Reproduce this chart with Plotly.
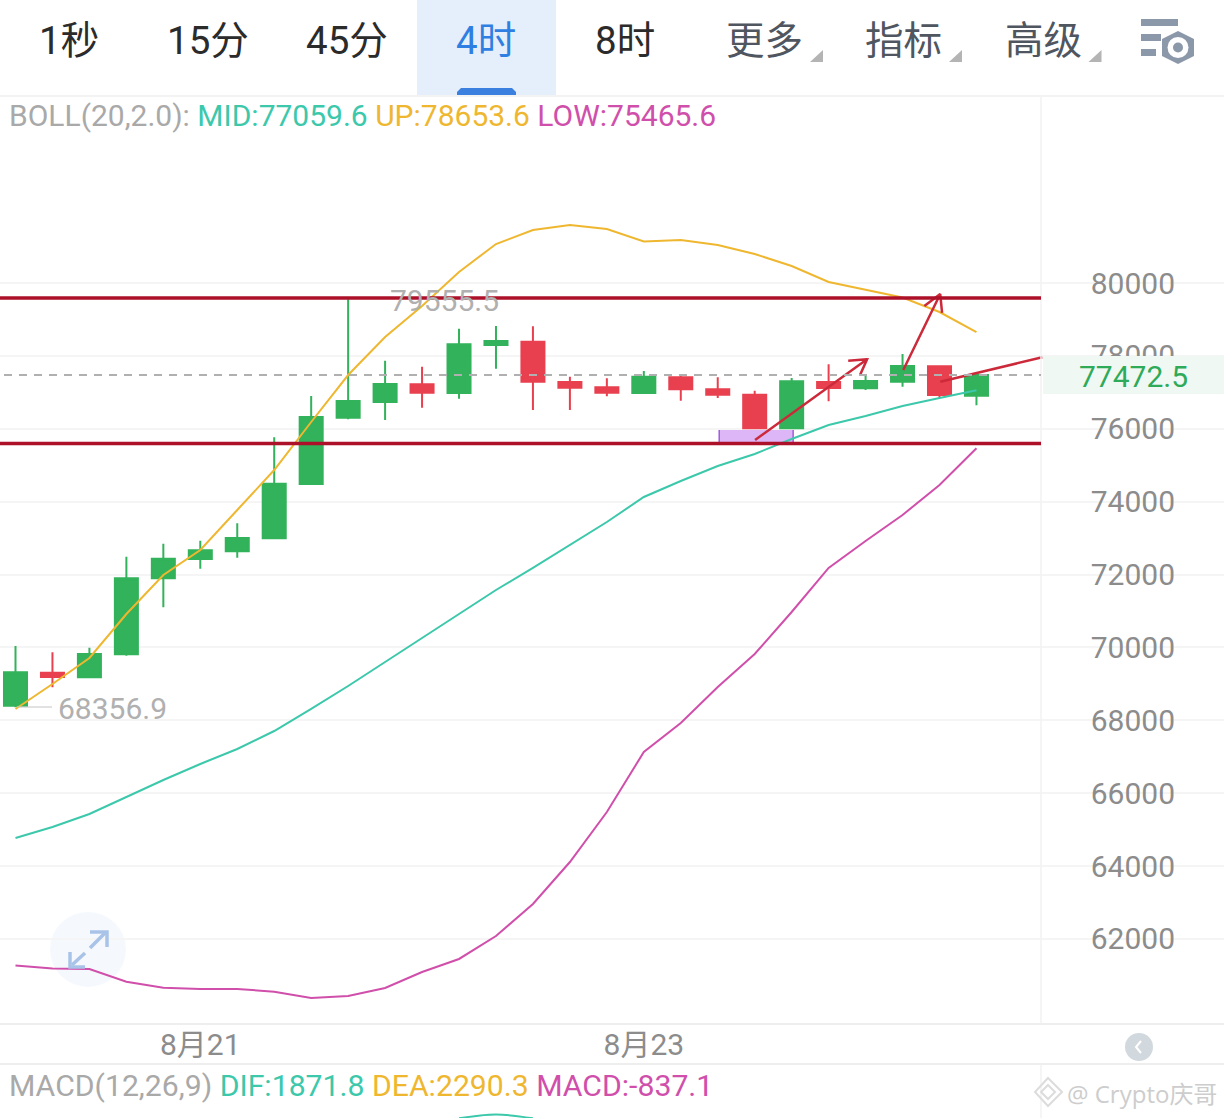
import plotly.graph_objects as go

# candles (green = up, red = down)
idx = list(range(27))
opens = [68401, 69307, 69181, 69812, 71897, 72427, 72638, 72994, 74485, 76304, 76735, 77220, 76982, 78299,
         78389, 77283, 77138, 76982, 77412, 77083, 76935, 76013, 77283, 77111, 77292, 77714, 76907]
highs = [70039, 69866, 69993, 72490, 72846, 72929, 73406, 75766, 76899, 79555.5, 77868, 77703, 78746, 78820,
         78812, 77429, 77385, 77585, 77476, 77412, 77045, 77393, 77769, 77448, 78052, 77714, 77476]
lows = [68356.9, 68906, 69161, 69773, 71101, 72160, 72462, 72994, 74485, 76260, 76241, 76578, 76825, 77648,
        76515, 76515, 76891, 76954, 76770, 76844, 76013, 76013, 76754, 77064, 77154, 76836, 76644]
closes = [69318, 69189, 69820, 71897, 72435, 72665, 73003, 74493, 76323, 76762, 77229, 76990, 78318, 78408,
          77292, 77127, 76990, 77429, 77083, 76935, 76013, 77303, 77119, 77311, 77722, 76927, 77472.5]

boll_up = [68311, 68997, 69710, 70917, 71988, 72673, 73771, 74869, 76186, 77475, 78518, 79369, 80302, 81070,
           81454, 81592, 81482, 81139, 81180, 81043, 80796, 80466, 80027, 79808, 79602, 79204, 78653.6]
boll_mid = [64771, 65073, 65429, 65896, 66362, 66801, 67213, 67706, 68311, 68942, 69600, 70259, 70917, 71576,
            72180, 72811, 73442, 74128, 74567, 74978, 75308, 75719, 76104, 76350, 76625, 76844, 77059.6]
boll_low = [61272, 61190, 61176, 60828, 60663, 60627, 60627, 60553, 60380, 60435, 60655, 61094, 61451, 62082,
            62960, 64112, 65484, 67131, 67926, 68914, 69820, 70972, 72180, 72920, 73634, 74457, 75465.6]

dif_idx = [12, 13, 14]
dif_vals = [3290, 3410, 3290]

y_ticks = [80000, 78000, 76000, 74000, 72000, 70000, 68000, 66000, 64000, 62000]
x_tick_idx = [5, 17]
x_tick_text = ['8月21', '8月23']
tabs = ['1秒', '15分', '45分', '4时', '8时', '更多', '指标', '高级']

# hand drawn lines on the chart
level_high = 79588
level_low = 75596
last_price = 77472.5
box_idx = [19.04, 21.04]
box_price = [75596, 75994]
arrow1_x = [20.01, 23.04, 22.53, 23.04, 22.85]
arrow1_y = [75692, 77906, 77868, 77906, 77475]
arrow2_x = [24.02, 25.02, 24.59, 25.02, 25.07]
arrow2_y = [77613, 79698, 79369, 79698, 79177]
line3_x = [25.02, 27.78]
line3_y = [77292, 77961]

GREEN = '#32b25a'
RED = '#e8404f'
TEAL = '#3cc8ab'
GOLD = '#efb730'
PINK = '#d04fab'
GREY = '#a9a9a9'
LINE_RED = '#ad1029'
ARROW_RED = '#cc2a3a'

W, H = 1224, 1118
PER_CANDLE = 36.96


def px(v):
    return v / W


def py(v):
    return 1 - v / H


def to_idx(v):
    return (v - 15.5) / PER_CANDLE


def poly(points, close=True):
    s = 'M' + ' L'.join('%.5f,%.5f' % (px(a), py(b)) for a, b in points)
    return s + (' Z' if close else '')


traces = [
    go.Candlestick(x=idx, open=opens, high=highs, low=lows, close=closes,
                   increasing=dict(line=dict(color=GREEN, width=2), fillcolor=GREEN),
                   decreasing=dict(line=dict(color=RED, width=2), fillcolor=RED),
                   whiskerwidth=0, hoverinfo='skip'),
    go.Scatter(x=idx, y=boll_up, mode='lines', line=dict(color=GOLD, width=2)),
    go.Scatter(x=idx, y=boll_mid, mode='lines', line=dict(color=TEAL, width=2)),
    go.Scatter(x=idx, y=boll_low, mode='lines', line=dict(color=PINK, width=2)),
    go.Scatter(x=dif_idx, y=dif_vals, yaxis='y2', mode='lines', line=dict(color=TEAL, width=2, shape='spline')),
]

shapes = []


def rule(x0, y0, x1, y1, color='#f0f0f0', width=2):
    shapes.append(dict(type='line', xref='paper', yref='paper', x0=px(x0), y0=py(y0), x1=px(x1), y1=py(y1),
                       line=dict(color=color, width=width), layer='above'))


def solid(points, color, line=None):
    shapes.append(dict(type='path', xref='paper', yref='paper', path=poly(points), fillcolor=color,
                       line=dict(color=line or color, width=0 if line is None else 1), layer='above'))


# hides the grid behind the price labels
shapes.append(dict(type='rect', xref='x', yref='y', x0=to_idx(1056), x1=to_idx(1211), y0=59700, y1=85100,
                   fillcolor='white', line=dict(width=0), layer='below'))
# expand button background
shapes.append(dict(type='circle', xref='x', yref='y', x0=to_idx(50), x1=to_idx(126), y0=60683, y1=62740,
                   fillcolor='#f5f9fe', line=dict(width=0), layer='below'))
# drawn box sits under the candles and lines
shapes.append(dict(type='rect', xref='x', yref='y', x0=box_idx[0], x1=box_idx[1], y0=box_price[0], y1=box_price[1],
                   fillcolor='#dcb6f6', line=dict(color='#a25bd9', width=1.5), layer='below'))

# tab bar
solid([(417, 0), (556, 0), (556, 95), (417, 95)], '#e4effb')
shapes.append(dict(type='path', xref='paper', yref='paper', fillcolor='#3b7fdf', line=dict(width=0),
                   path=poly([(457, 95), (457, 92), (461, 88), (512, 88), (516, 92), (516, 95)])))
rule(0, 96, W, 96, '#efefef', 1.5)
rule(1041, 97, 1041, 1023, '#f2f2f2', 1.5)
rule(1041, 1065, 1041, H, '#f2f2f2', 1.5)
rule(0, 1024, W, 1024, '#eeeeee', 2)
rule(0, 1064, W, 1064, '#eeeeee', 2)
for tx in [810, 949, 1088.5]:
    solid([(tx, 62), (tx + 13, 62), (tx + 13, 50)], '#b4b4b4')

# settings icon
ICON = '#8b98a9'
solid([(1141, 19), (1178, 19), (1178, 26), (1141, 26)], ICON)
solid([(1141, 34), (1161, 34), (1161, 41), (1141, 41)], ICON)
solid([(1141, 49), (1156, 49), (1156, 56), (1141, 56)], ICON)
solid([(1178, 31), (1194, 39), (1194, 56), (1178, 64), (1162, 56), (1162, 39)], ICON)
shapes.append(dict(type='circle', xref='paper', yref='paper', x0=px(1167.5), x1=px(1188.5), y0=py(58), y1=py(37),
                   fillcolor='white', line=dict(width=0)))
shapes.append(dict(type='circle', xref='paper', yref='paper', x0=px(1173), x1=px(1183), y0=py(52.5), y1=py(42.5),
                   fillcolor=ICON, line=dict(width=0)))

# levels, dashed last price and small low marker
for lv in [level_high, level_low]:
    shapes.append(dict(type='line', xref='x', yref='y', x0=to_idx(0), x1=to_idx(1041), y0=lv, y1=lv,
                       line=dict(color=LINE_RED, width=3.5), layer='above'))
shapes.append(dict(type='line', xref='x', yref='y', x0=to_idx(4), x1=to_idx(1041), y0=last_price, y1=last_price,
                   line=dict(color='#b0b0b0', width=2, dash='8px,7px'), layer='above'))
shapes.append(dict(type='line', xref='paper', yref='paper', x0=px(17), x1=px(52), y0=py(707), y1=py(707),
                   line=dict(color='#c4c4c4', width=1), layer='above'))

# expand icon
for pts in [[(90, 932), (107, 932), (107, 947)], [(90, 948), (105, 933)],
            [(70, 952), (70, 967), (85, 967)], [(85, 953), (72, 965)]]:
    shapes.append(dict(type='path', xref='paper', yref='paper', path=poly(pts, close=False),
                       line=dict(color='#a9c3e8', width=3.5), layer='above'))

# last price tag, sits over the 78000 label
solid([(1043, 356), (W, 356), (W, 394), (1043, 394)], '#f0f8f3')

# scroll button
shapes.append(dict(type='circle', xref='paper', yref='paper', x0=px(1125), x1=px(1153), y0=py(1061), y1=py(1033),
                   fillcolor='#d2d9de', line=dict(width=0), layer='above'))
shapes.append(dict(type='path', xref='paper', yref='paper', path=poly([(1141, 1041), (1136, 1047), (1141, 1053)], close=False),
                   line=dict(color='white', width=2), layer='above'))

# watermark logo
for pts in [[(1048, 1078), (1062, 1092), (1048, 1106), (1035, 1092)],
            [(1048, 1085), (1055, 1092), (1048, 1099), (1041, 1092)]]:
    shapes.append(dict(type='path', xref='paper', yref='paper', path=poly(pts),
                       line=dict(color='#dcdcdc', width=2), layer='above'))

for ax, ay in [(arrow1_x, arrow1_y), (arrow2_x, arrow2_y), (line3_x, line3_y)]:
    traces.append(go.Scatter(x=ax, y=ay, mode='lines', line=dict(color=ARROW_RED, width=2.5)))

FONT = 'Roboto, "Noto Sans CJK SC", sans-serif'


def label(text, x, y, size, color, anchor='left', family=FONT):
    return dict(text=text, xref='paper', yref='paper', x=px(x), y=py(y), xanchor=anchor, yanchor='middle',
                showarrow=False, font=dict(family=family, size=size, color=color), borderpad=0, borderwidth=0)


def span(text, color):
    return '<span style="color:%s">%s</span>' % (color, text)


tab_x = [69, 208, 347, 486, 625, 764.5, 903, 1043]
tab_color = ['#2b2b2b', '#2b2b2b', '#2b2b2b', '#2f7fe3', '#2b2b2b', '#4f5660', '#4f5660', '#4f5660']
annotations = [label(t, x, 41, 38.5, c, 'center') for t, x, c in zip(tabs, tab_x, tab_color)]
annotations += [
    label(span('BOLL(20,2.0): ', GREY) + span('MID:77059.6 ', TEAL) + span('UP:78653.6 ', GOLD) + span('LOW:75465.6', PINK),
          8.5, 115.5, 30, GREY),
    label(span('MACD(12,26,9) ', GREY) + span('DIF:1871.8 ', TEAL) + span('DEA:2290.3 ', GOLD) + span('MACD:-837.1', PINK),
          8.5, 1085, 30.2, GREY),
    label('79555.5', 444, 301, 30, '#b0b0b0', 'center'),
    label('68356.9', 58, 708, 30, '#b0b0b0'),
    label('77472.5', 1133, 376, 30, '#2faa58', 'center'),
    label('@ Crypto庆哥', 1067, 1093, 24, '#cdcdcd', family='"Open Sans", "Noto Sans CJK SC", sans-serif'),
]

layout = go.Layout(
    width=W, height=H,
    margin=dict(l=0, r=0, t=0, b=0),
    paper_bgcolor='white',
    plot_bgcolor='rgba(0,0,0,0)',
    showlegend=False,
    font=dict(family=FONT),
    xaxis=dict(domain=[0, 1], range=[to_idx(0), to_idx(W)], rangeslider=dict(visible=False),
               tickmode='array', tickvals=x_tick_idx, ticktext=x_tick_text,
               tickfont=dict(size=30, color='#8c8c8c'), showgrid=False, zeroline=False, ticks='',
               ticklabelstandoff=1, anchor='y'),
    yaxis=dict(domain=[py(1023), py(97)], range=[59694, 85104], tickmode='array', tickvals=y_ticks,
               tickformat='d', tickfont=dict(size=30, color='#8c8c8c'), gridcolor='#f5f5f5', gridwidth=2,
               zeroline=False, anchor='free', position=px(1175), side='left', ticks=''),
    yaxis2=dict(domain=[0, py(1064)], range=[3300, 5000], visible=False, anchor='x'),
    shapes=shapes,
    annotations=annotations,
    boxgap=0.11,
)

fig = go.Figure(data=traces, layout=layout)
fig.write_html('out.html', config={'displayModeBar': False},
               post_script="document.body.style.margin='0';")
